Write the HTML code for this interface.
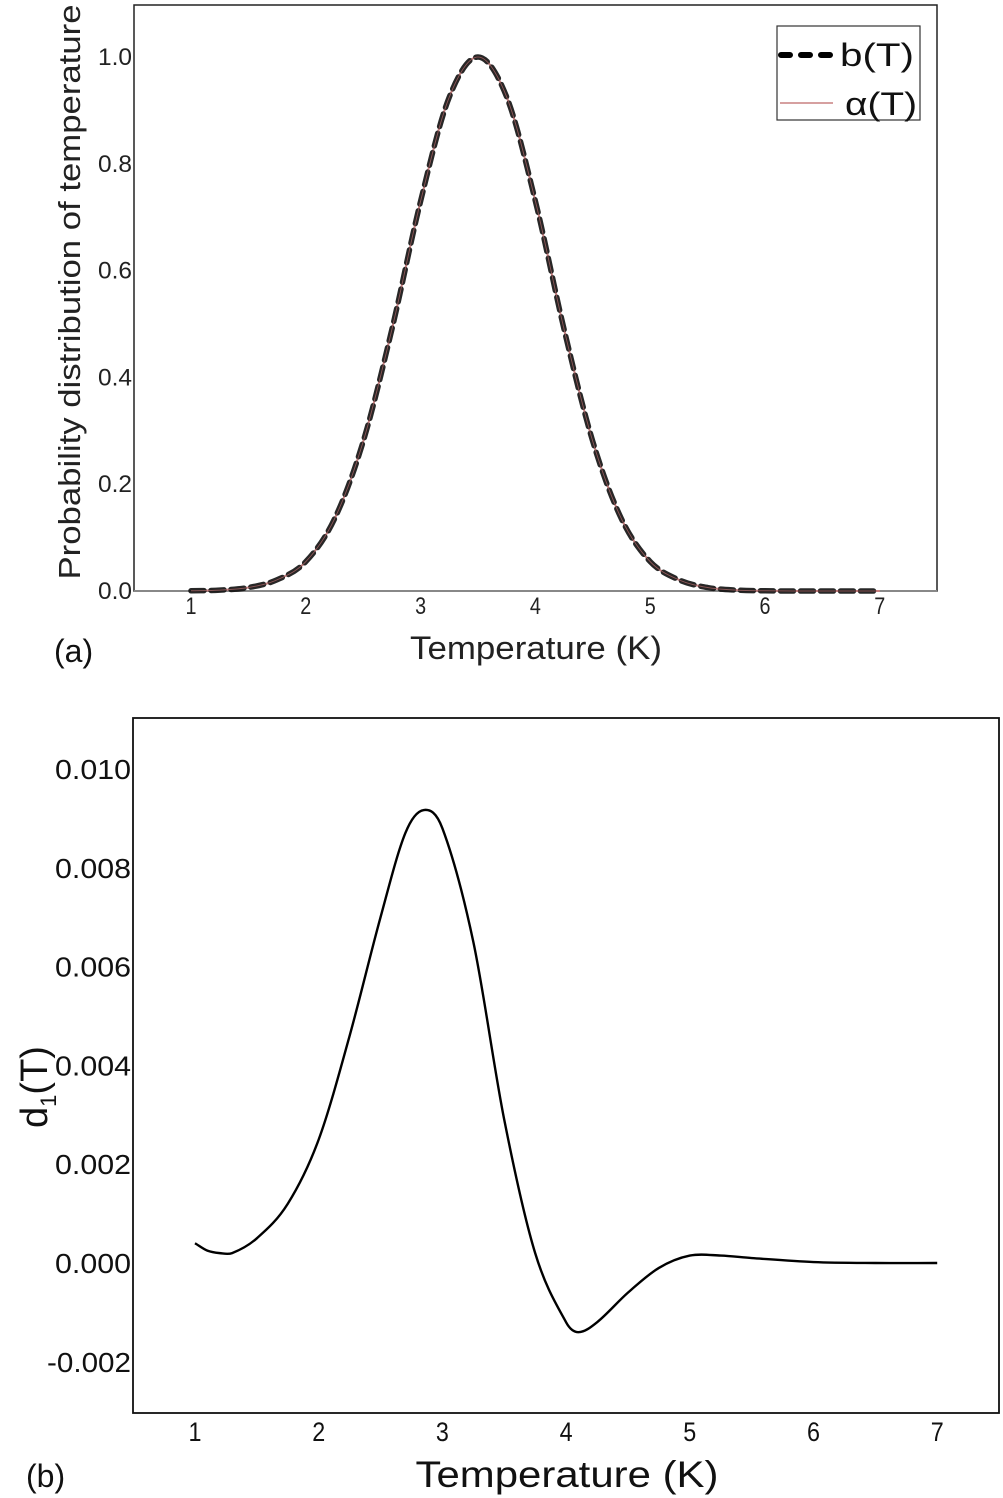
<!DOCTYPE html>
<html><head><meta charset="utf-8"><style>
body{margin:0;background:#fff;}
svg{display:block;font-family:"Liberation Sans",sans-serif;}
</style></head><body>
<svg id="fig" width="1003" height="1498" viewBox="0 0 1003 1498">
<g id="pa"></g>
<g id="pb"></g>
</svg>
<script>
const tA = [1.0,1.25,1.5,1.75,2.0,2.25,2.5,2.75,3.0,3.25,3.5,3.75,4.0,4.25,4.5,4.75,5.0,5.25,5.5,5.75,6.0,6.25,6.5,6.75,7.0];
const bValues = [0.0004,0.0017,0.0065,0.021,0.055,0.135,0.28,0.49,0.73,0.925,1.0,0.925,0.73,0.49,0.28,0.135,0.055,0.021,0.0065,0.0017,0.0004,0,0,0,0];
const alphaValues = bValues.slice();
const xTicksA = [1,2,3,4,5,6,7];
const yTicksA = [0.0,0.2,0.4,0.6,0.8,1.0];
const yTickLabelsA = ["0.0","0.2","0.4","0.6","0.8","1.0"];

const tB = [1.0,1.1,1.2,1.3,1.5,1.75,2.0,2.25,2.5,2.7,2.85,3.0,3.25,3.5,3.75,4.0,4.1,4.25,4.5,4.75,5.0,5.25,5.5,6.0,6.5,7.0];
const d1Values = [0.0004,0.00025,0.0002,0.0002,0.0005,0.0012,0.0025,0.0046,0.0070,0.0087,0.00917,0.0088,0.0065,0.0029,0.0002,-0.0012,-0.0014,-0.0012,-0.0006,-0.0001,0.00015,0.00015,0.0001,0.00002,0,0];
const xTicksB = [1,2,3,4,5,6,7];
const yTicksB = [-0.002,0,0.002,0.004,0.006,0.008,0.010];
const yTickLabelsB = ["-0.002","0.000","0.002","0.004","0.006","0.008","0.010"];

const NS="http://www.w3.org/2000/svg";
function mk(tag,attrs,parent,text){const e=document.createElementNS(NS,tag);for(const k in attrs)e.setAttribute(k,attrs[k]);if(text!==undefined)e.textContent=text;parent.appendChild(e);return e;}
function smooth(pts){
  const n=pts.length,m=[];
  for(let i=0;i<n;i++){const a=pts[Math.max(0,i-1)],b=pts[Math.min(n-1,i+1)];m.push((b[1]-a[1])/(b[0]-a[0]));}
  let d="M"+pts[0][0]+","+pts[0][1];
  for(let i=0;i<n-1;i++){const p1=pts[i],p2=pts[i+1],h=(p2[0]-p1[0])/3;
    d+=" C"+(p1[0]+h)+","+(p1[1]+m[i]*h)+" "+(p2[0]-h)+","+(p2[1]-m[i+1]*h)+" "+p2[0]+","+p2[1];}
  return d;}

// Panel A
const A=document.getElementById('pa');
const xA=v=>191+(v-1)*114.8, yA=v=>591-v*534;
let e;
e=mk('rect',{x:134,y:5,width:803,height:586,fill:'none',stroke:'#222','stroke-width':1.5},A);

e=mk('line',{x1:134,y1:591,x2:937,y2:591,stroke:'#888','stroke-width':2},A);

xTicksA.forEach(v=>{e=mk('text',{x:xA(v),y:614,'text-anchor':'middle','font-size':24,fill:'#222',textLength:11,lengthAdjust:'spacingAndGlyphs'},A,String(v));
});
yTicksA.forEach((v,i)=>{e=mk('text',{x:132,y:yA(v)+8,'text-anchor':'end','font-size':24,fill:'#222',textLength:34,lengthAdjust:'spacingAndGlyphs'},A,yTickLabelsA[i]);
});
e=mk('path',{d:smooth(tA.map((t,i)=>[xA(t),yA(alphaValues[i])])),fill:'none',stroke:'#c98080','stroke-width':2},A);

e=mk('path',{d:smooth(tA.map((t,i)=>[xA(t),yA(bValues[i])])),fill:'none',stroke:'#111','stroke-width':5.5,'stroke-dasharray':'13,7','stroke-linecap':'round','opacity':0.9},A);

e=mk('path',{d:smooth(tA.map((t,i)=>[xA(t),yA(alphaValues[i])])),fill:'none',stroke:'#c98080','stroke-width':1,'opacity':0.6},A);

e=mk('text',{x:536,y:659,'text-anchor':'middle','font-size':32,fill:'#222',textLength:252,lengthAdjust:'spacingAndGlyphs'},A,'Temperature (K)');

e=mk('text',{x:0,y:0,'text-anchor':'middle','font-size':31,fill:'#222',textLength:575,lengthAdjust:'spacingAndGlyphs',transform:'translate(80,292) rotate(-90)'},A,'Probability distribution of temperature');

e=mk('text',{x:54,y:662,'font-size':32,fill:'#111'},A,'(a)');

// legend
const L=mk('g',{},A);
mk('rect',{x:777,y:26,width:143,height:94,fill:'#fff',stroke:'#333','stroke-width':1.2},L);
e=mk('line',{x1:781,y1:55,x2:836,y2:55,stroke:'#000','stroke-width':6,'stroke-dasharray':'9,11','stroke-linecap':'round'},L);

e=mk('text',{x:840,y:66,'font-size':32,fill:'#111',textLength:74,lengthAdjust:'spacingAndGlyphs'},L,'b(T)');

e=mk('line',{x1:780,y1:103,x2:833,y2:103,stroke:'#c98080','stroke-width':1.5},L);

e=mk('text',{x:845,y:115,'font-size':32,fill:'#111',textLength:72,lengthAdjust:'spacingAndGlyphs'},L,'α(T)');


// Panel B
const B=document.getElementById('pb');
const xB=v=>195+(v-1)*123.7, yB=v=>1263-v*49400;
e=mk('rect',{x:133,y:718,width:866,height:695,fill:'none',stroke:'#111','stroke-width':1.8},B);

xTicksB.forEach(v=>{e=mk('text',{x:xB(v),y:1441,'text-anchor':'middle','font-size':27,fill:'#111',textLength:13,lengthAdjust:'spacingAndGlyphs'},B,String(v));
});
yTicksB.forEach((v,i)=>{e=mk('text',{x:131,y:yB(v)+10,'text-anchor':'end','font-size':28,fill:'#111',textLength:(yTickLabelsB[i].length>5?84:76),lengthAdjust:'spacingAndGlyphs'},B,yTickLabelsB[i]);
});
e=mk('path',{d:smooth(tB.map((t,i)=>[xB(t),yB(d1Values[i])])),fill:'none',stroke:'#000','stroke-width':2.4},B);

e=mk('text',{x:567,y:1487,'text-anchor':'middle','font-size':37,fill:'#111',textLength:303,lengthAdjust:'spacingAndGlyphs'},B,'Temperature (K)');

const yt=mk('text',{x:0,y:0,'text-anchor':'middle','font-size':38,fill:'#111',transform:'translate(47,1087) rotate(-90)'},B);

mk('tspan',{},yt,'d');mk('tspan',{'font-size':22,dy:9},yt,'1');mk('tspan',{dy:-9},yt,'(T)');
e=mk('text',{x:26,y:1487,'font-size':32,fill:'#111'},B,'(b)');

</script>
</body></html>
